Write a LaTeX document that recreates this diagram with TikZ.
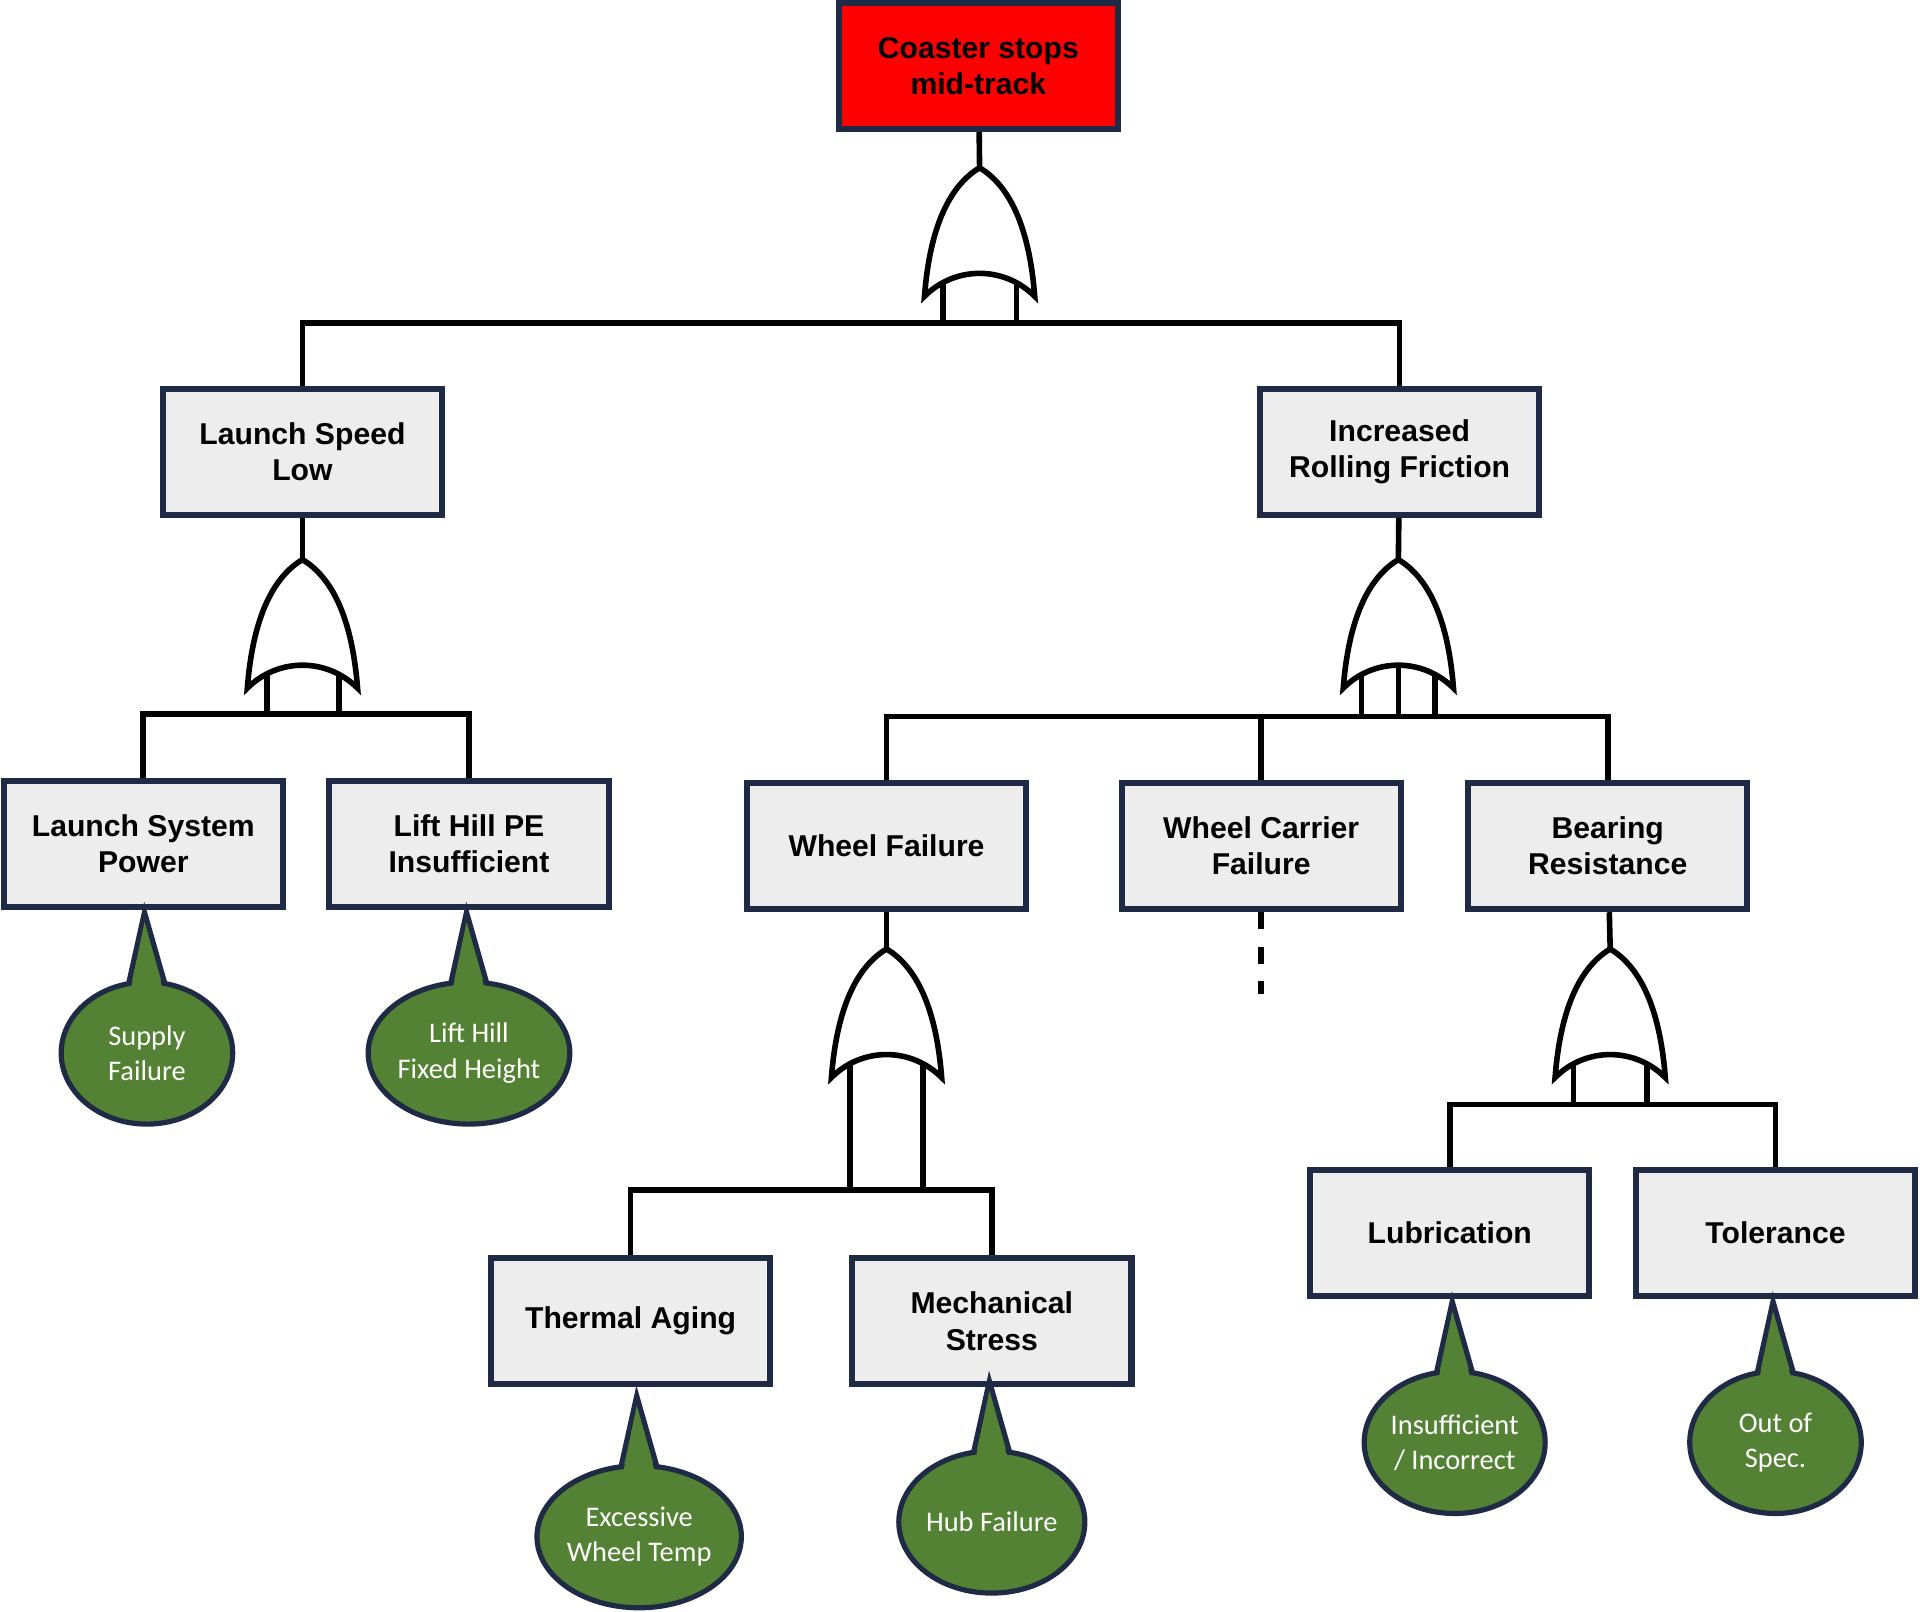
\documentclass[tikz,border=0pt]{standalone}
\usepackage{fontspec}
\setmainfont{Liberation Sans}
\newfontfamily\calfont{Carlito}
\usepackage{tikz}
\usetikzlibrary{calc, shapes, backgrounds}

\definecolor{navy}{HTML}{1F2A44}
\definecolor{boxgray}{HTML}{EDEDED}
\definecolor{leaf}{HTML}{548235}

% one OR gate, apex at #1
\newcommand{\orgatepic}[1]{%
  \filldraw[gate] ($(#1)+(-45,105)$) .. controls ($(#1)+(-40,40)$) and ($(#1)+(-20,12)$) .. (#1)
    .. controls ($(#1)+(20,12)$) and ($(#1)+(40,40)$) .. ($(#1)+(45,105)$)
    .. controls ($(#1)+(20,80)$) and ($(#1)+(-20,80)$) .. cycle;}

\begin{document}
\begin{tikzpicture}
  [
    x = 0.01cm, y = -0.01cm,
    event/.style = {draw = navy, line width = 1.4pt, fill = boxgray,
      minimum width = 2.28cm, minimum height = 1.03cm, align = center,
      font = \fontsize{7}{8.4}\selectfont\bfseries},
    top/.style = {event, fill = red},
    cause/.style = {draw = navy, line width = 1.2pt, fill = leaf, ellipse,
      minimum width = 1.4cm, minimum height = 1.16cm, inner sep = 0pt,
      align = center, text = white, font = \calfont\fontsize{6.6}{8.2}\selectfont},
    gate/.style = {draw = black, line width = 1.3pt, fill = white},
    wire/.style = {draw = black, line width = 1.3pt}
  ]
  \useasboundingbox (0,0) rectangle (1568,1316);

  % events
  \node[top]   (Top)   at (799,54)    {Coaster stops\\mid-track};
  \node[event] (Speed) at (247,369)   {Launch Speed\\Low};
  \node[event] (Fric)  at (1143,369)  {Increased\\Rolling Friction};
  \node[event] (Power) at (117,689)   {Launch System\\Power};
  \node[event] (Lift)  at (383,689)   {Lift Hill PE\\Insufficient};
  \node[event] (Wheel) at (724,691)   {Wheel Failure};
  \node[event] (Carr)  at (1030,691)  {Wheel Carrier\\Failure};
  \node[event] (Bear)  at (1313,691)  {Bearing\\Resistance};
  \node[event] (Therm) at (515,1079)  {Thermal Aging};
  \node[event] (Mech)  at (810,1079)  {Mechanical\\Stress};
  \node[event] (Lub)   at (1184,1007) {Lubrication};
  \node[event] (Tol)   at (1450,1007) {Tolerance};

  % gate apexes
  \coordinate (G0) at (800,137);
  \coordinate (G1) at (247,457);
  \coordinate (G2) at (1142,457);
  \coordinate (G3) at (724,775);
  \coordinate (G4) at (1315,775);

  % connectors
  \draw[wire] (Top) -- (G0);
  \draw[wire] (770,230) -- (770,264) (830,230) -- (830,264);
  \draw[wire] (Speed.north) |- (Fric.north |- 0,264) -- (Fric.north);
  \draw[wire] (Speed) -- (G1);
  \draw[wire] (218,550) -- (218,583) (277,550) -- (277,583);
  \draw[wire] (Power.north) |- (Lift.north |- 0,583) -- (Lift.north);
  \draw[wire] (Fric) -- (G2);
  \draw[wire] (1112,550) -- (1112,585) (1142,545) -- (1142,585) (1172,550) -- (1172,585);
  \draw[wire] (Wheel.north) |- (Bear.north |- 0,585) -- (Bear.north);
  \draw[wire] (Carr.north) -- (Carr.north |- 0,585);
  \draw[wire] (Wheel) -- (G3);
  \draw[wire] (694,868) -- (694,972) (754,868) -- (754,972);
  \draw[wire] (Therm.north) |- (Mech.north |- 0,972) -- (Mech.north);
  \draw[wire] (Bear) -- (G4);
  \draw[wire] (1285,868) -- (1285,902) (1345,868) -- (1345,902);
  \draw[wire] (Lub.north) |- (Tol.north |- 0,902) -- (Tol.north);
  \draw[line width = 1.3pt, dash pattern = on 4pt off 4pt] (Carr.south) -- (1030,812);

  \orgatepic{G0}
  \orgatepic{G1}
  \orgatepic{G2}
  \orgatepic{G3}
  \orgatepic{G4}

  % basic causes
  \foreach \n/\x/\y/\t/\lab in {
      Sup/120/860/118/{Supply\\Failure},
      Hill/383/860/381/{Lift Hill\\Fixed Height},
      Temp/522/1255/520/{Excessive\\Wheel Temp},
      Hub/810/1243/808/{Hub Failure},
      Ins/1188/1178/1186/{Insufficient\\/ Incorrect},
      Spec/1450/1178/1448/{Out of\\Spec.}} {
    \pgfmathsetmacro{\tip}{\y-115}
    \filldraw[draw = navy, line width = 1.2pt, fill = leaf]
      (\t,\tip) -- (\x-16,\y-52) -- (\x+16,\y-52) -- cycle;
    \node[cause] (\n) at (\x,\y) {\lab};
    \fill[leaf] (\t,\tip+8) -- (\x-14,\y-48) -- (\x+14,\y-48) -- cycle;
  }
\end{tikzpicture}
\end{document}
